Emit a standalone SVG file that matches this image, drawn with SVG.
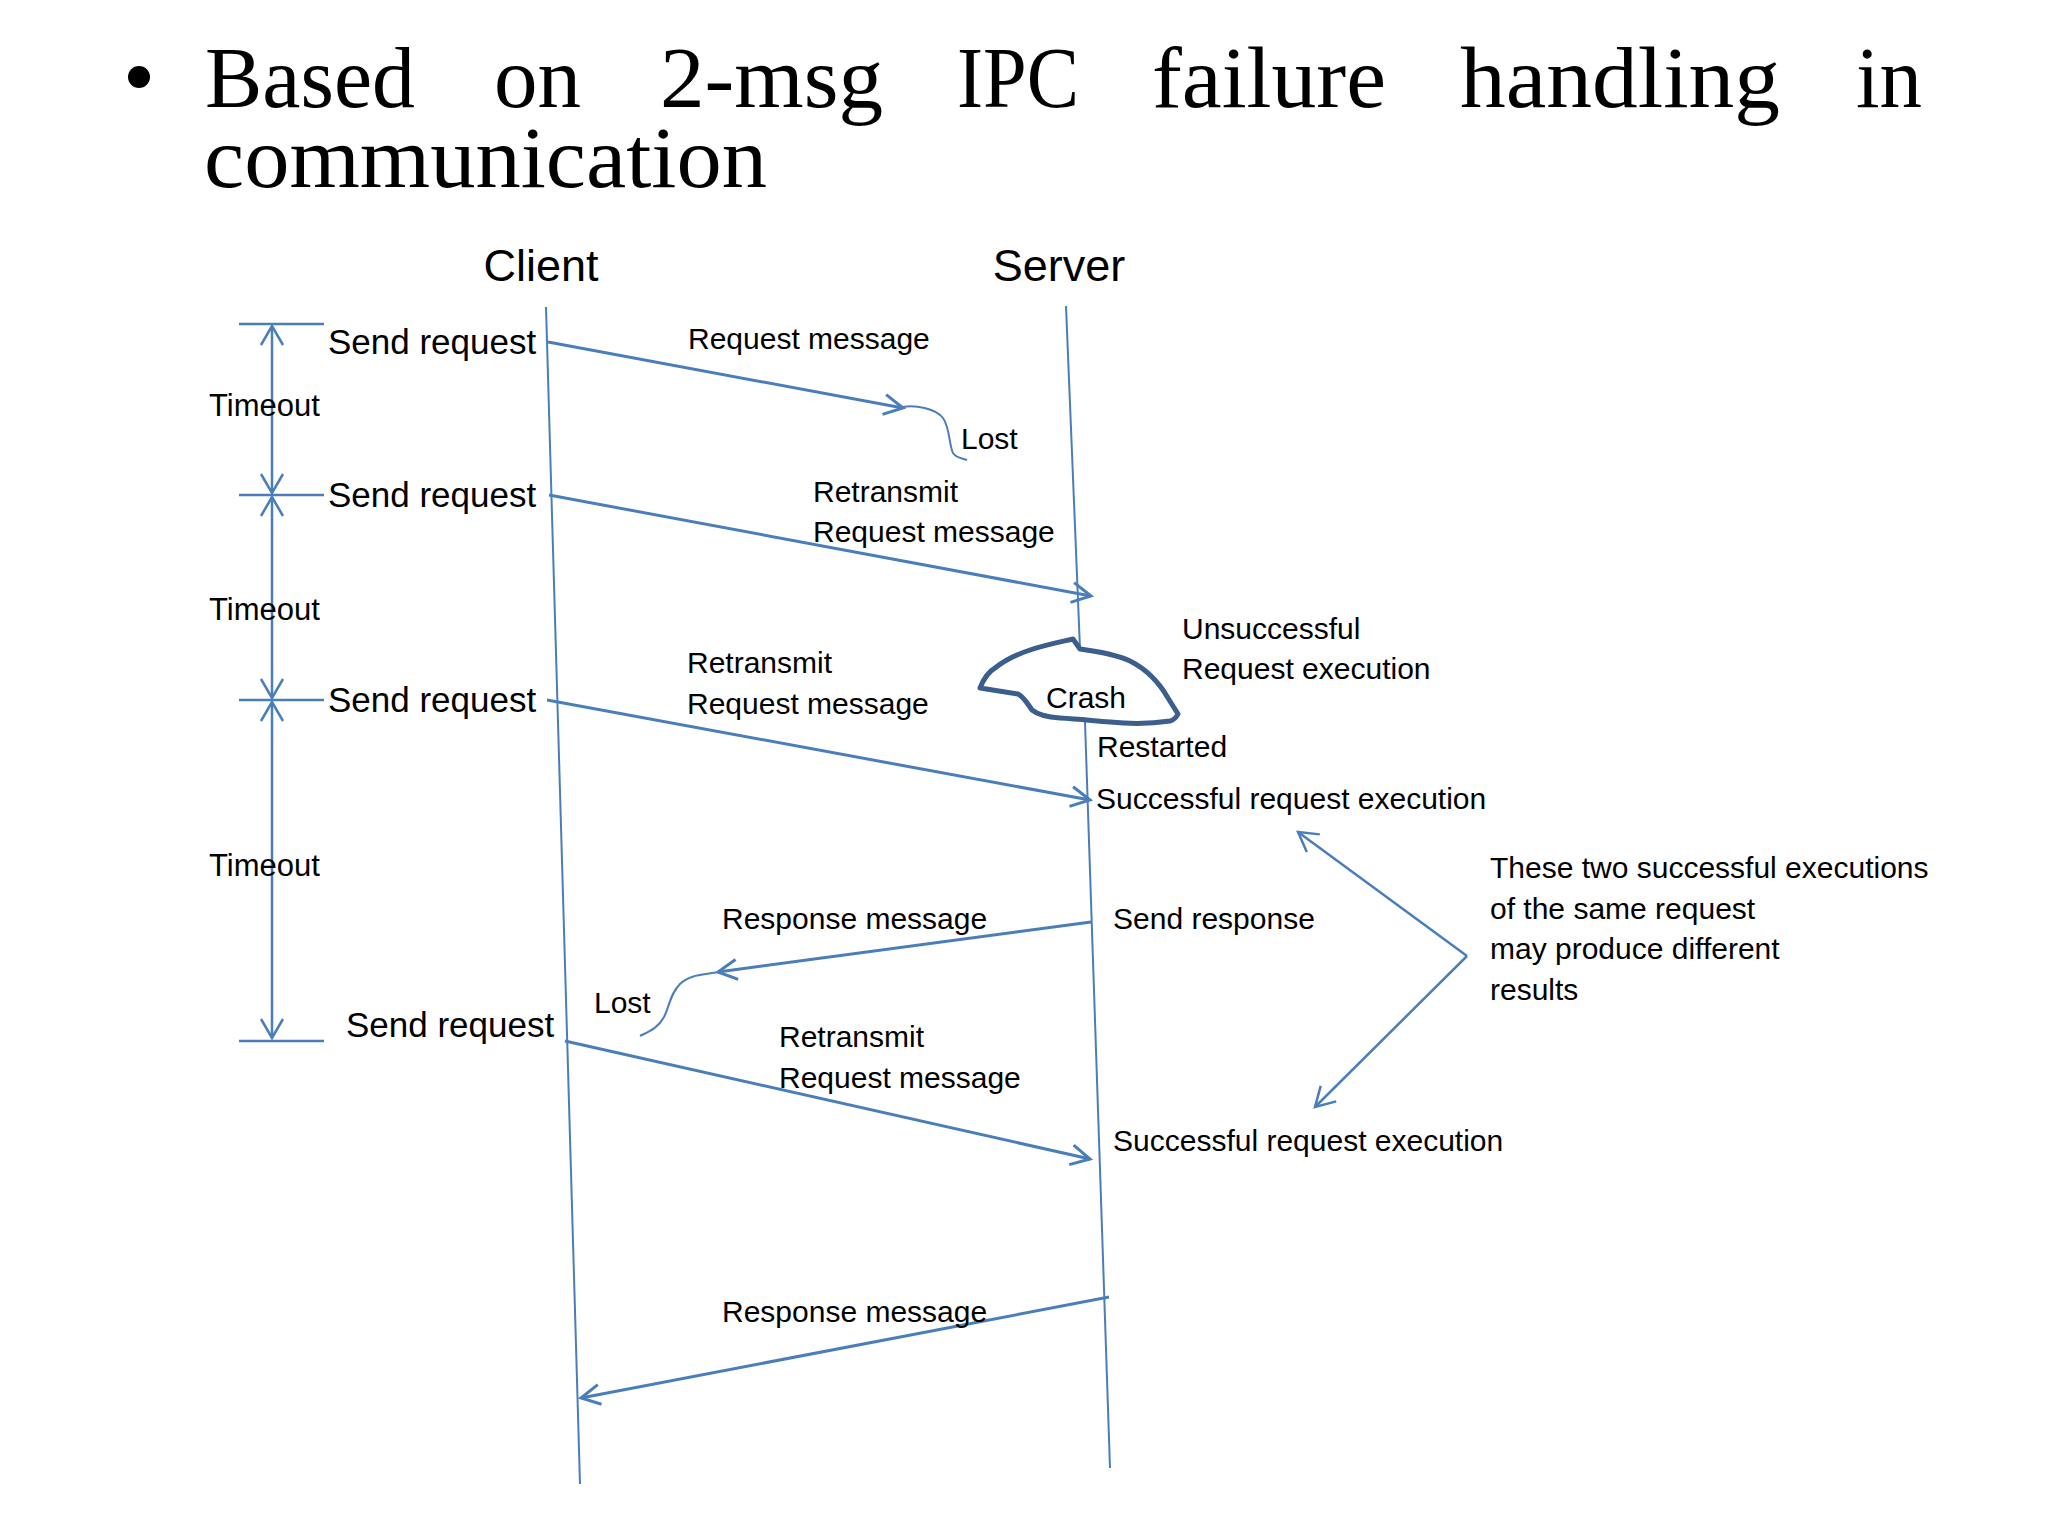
<svg xmlns="http://www.w3.org/2000/svg" width="2048" height="1536" viewBox="0 0 2048 1536">
<defs>
<style>
.title{font-family:"Liberation Serif","Times New Roman",serif;font-size:87px;fill:#000}
.hdr{font-family:"Liberation Sans",Arial,sans-serif;font-size:45px;fill:#000}
.big{font-family:"Liberation Sans",Arial,sans-serif;font-size:35px;fill:#000}
.lbl{font-family:"Liberation Sans",Arial,sans-serif;font-size:30px;fill:#000}
.to{font-family:"Liberation Sans",Arial,sans-serif;font-size:31px;fill:#000}
.life{stroke:#4A7EBB;stroke-width:2;fill:none}
.msg{stroke:#4A7EBB;stroke-width:3;fill:none;marker-end:url(#ah)}
.wig{stroke:#4A7EBB;stroke-width:2;fill:none}
.rul{stroke:#4A7EBB;stroke-width:2.5;fill:none}
.dbl{stroke:#4A7EBB;stroke-width:2.5;fill:none;marker-start:url(#ah2);marker-end:url(#ah2)}
</style>
<marker id="ah" markerUnits="userSpaceOnUse" markerWidth="30" markerHeight="30" refX="21" refY="12" orient="auto" overflow="visible">
<path d="M2,2 L21,12 L2,22" fill="none" stroke="#4A7EBB" stroke-width="3"/>
</marker>
<marker id="ah2" markerUnits="userSpaceOnUse" markerWidth="30" markerHeight="30" refX="21" refY="12" orient="auto-start-reverse" overflow="visible">
<path d="M2,1 L21,12 L2,23" fill="none" stroke="#4A7EBB" stroke-width="2.5"/>
</marker>
<marker id="ah3" markerUnits="userSpaceOnUse" markerWidth="30" markerHeight="30" refX="21" refY="12" orient="auto" overflow="visible">
<path d="M2,1 L21,12 L2,23" fill="none" stroke="#4A7EBB" stroke-width="2.5"/>
</marker>
</defs>
<rect width="2048" height="1536" fill="#ffffff"/>

<g id="title">
<circle cx="139" cy="77" r="11" fill="#000"/>
<text class="title" x="205" y="107" textLength="210" lengthAdjust="spacingAndGlyphs">Based</text>
<text class="title" x="494" y="107" textLength="87" lengthAdjust="spacingAndGlyphs">on</text>
<text class="title" x="660" y="107" textLength="223" lengthAdjust="spacingAndGlyphs">2-msg</text>
<text class="title" x="957" y="107" textLength="122" lengthAdjust="spacingAndGlyphs">IPC</text>
<text class="title" x="1152" y="107" textLength="234" lengthAdjust="spacingAndGlyphs">failure</text>
<text class="title" x="1460" y="107" textLength="320" lengthAdjust="spacingAndGlyphs">handling</text>
<text class="title" x="1856" y="107" textLength="66" lengthAdjust="spacingAndGlyphs">in</text>
<text class="title" x="204" y="187" textLength="563" lengthAdjust="spacingAndGlyphs">communication</text>
</g>

<g id="client">
<text class="hdr" x="541" y="281" text-anchor="middle">Client</text>
<line class="life" x1="546" y1="307" x2="580" y2="1484"/>
</g>
<g id="server">
<text class="hdr" x="1059" y="281" text-anchor="middle">Server</text>
<line class="life" x1="1066" y1="306" x2="1080" y2="649"/>
<line class="life" x1="1085" y1="722" x2="1110" y2="1468"/>
</g>

<g id="timeout-ruler">
<line class="rul" x1="239" y1="324" x2="324" y2="324"/>
<line class="rul" x1="239" y1="495" x2="324" y2="495"/>
<line class="rul" x1="239" y1="700" x2="324" y2="700"/>
<line class="rul" x1="239" y1="1041" x2="324" y2="1041"/>
<line class="dbl" x1="272" y1="326" x2="272" y2="493"/>
<line class="dbl" x1="272" y1="497" x2="272" y2="698"/>
<line class="dbl" x1="272" y1="702" x2="272" y2="1038"/>
<text class="to" x="209" y="416">Timeout</text>
<text class="to" x="209" y="620">Timeout</text>
<text class="to" x="209" y="876">Timeout</text>
</g>

<g id="send-requests">
<text class="big" x="328" y="354">Send request</text>
<text class="big" x="328" y="507">Send request</text>
<text class="big" x="328" y="712">Send request</text>
<text class="big" x="346" y="1037">Send request</text>
</g>

<g id="crash">
<path d="M1073,639 L1080,649 C1095,651 1115,654 1130,661 C1148,670 1160,684 1168,698 L1178,714 C1176,718 1174,720 1170,721 C1150,724 1130,724 1110,722 C1095,721 1080,719 1060,718 C1045,717 1037,714 1032,710 C1027,703 1024,697 1018,694 C1005,692 992,690 980,688 C984,678 988,672 995,668 C1005,660 1018,654 1030,650 C1045,645 1060,642 1073,639 Z" fill="#ffffff" stroke="#3B5E8C" stroke-width="5" stroke-linejoin="round"/>
<text class="lbl" x="1046" y="708">Crash</text>
</g>

<g id="connectors">
<line class="msg" x1="548" y1="342" x2="903" y2="408"/>
<path class="wig" d="M903,407 C915,405 935,408 943,418 C950,428 949,445 953,453 C957,459 963,458 967,460"/>
<line class="msg" x1="549" y1="495" x2="1091" y2="596"/>
<line class="msg" x1="547" y1="700" x2="1090" y2="800"/>
<line class="msg" x1="1091" y1="922" x2="718" y2="972"/>
<path class="wig" d="M718,972 C705,975 690,974 680,984 C670,994 670,1005 664,1017 C658,1028 650,1031 640,1036"/>
<line class="msg" x1="565" y1="1041" x2="1090" y2="1159"/>
<line class="msg" x1="1109" y1="1297" x2="581" y2="1398"/>
<line class="rul" x1="1467" y1="956" x2="1298" y2="832" style="marker-end:url(#ah3)"/>
<line class="rul" x1="1467" y1="956" x2="1315" y2="1107" style="marker-end:url(#ah3)"/>
</g>

<g id="labels">
<text class="lbl" x="688" y="349">Request message</text>
<text class="lbl" x="961" y="449">Lost</text>
<text class="lbl" x="813" y="502">Retransmit</text>
<text class="lbl" x="813" y="542">Request message</text>
<text class="lbl" x="1182" y="639">Unsuccessful</text>
<text class="lbl" x="1182" y="679">Request execution</text>
<text class="lbl" x="687" y="673">Retransmit</text>
<text class="lbl" x="687" y="714">Request message</text>
<text class="lbl" x="1097" y="757">Restarted</text>
<text class="lbl" x="1096" y="809">Successful request execution</text>
<text class="lbl" x="722" y="929">Response message</text>
<text class="lbl" x="1113" y="929">Send response</text>
<text class="lbl" x="594" y="1013">Lost</text>
<text class="lbl" x="779" y="1047">Retransmit</text>
<text class="lbl" x="779" y="1088">Request message</text>
<text class="lbl" x="1113" y="1151">Successful request execution</text>
<text class="lbl" x="722" y="1322">Response message</text>
<text class="lbl" x="1490" y="878">These two successful executions</text>
<text class="lbl" x="1490" y="919">of the same request</text>
<text class="lbl" x="1490" y="959">may produce different</text>
<text class="lbl" x="1490" y="1000">results</text>
</g>
</svg>
